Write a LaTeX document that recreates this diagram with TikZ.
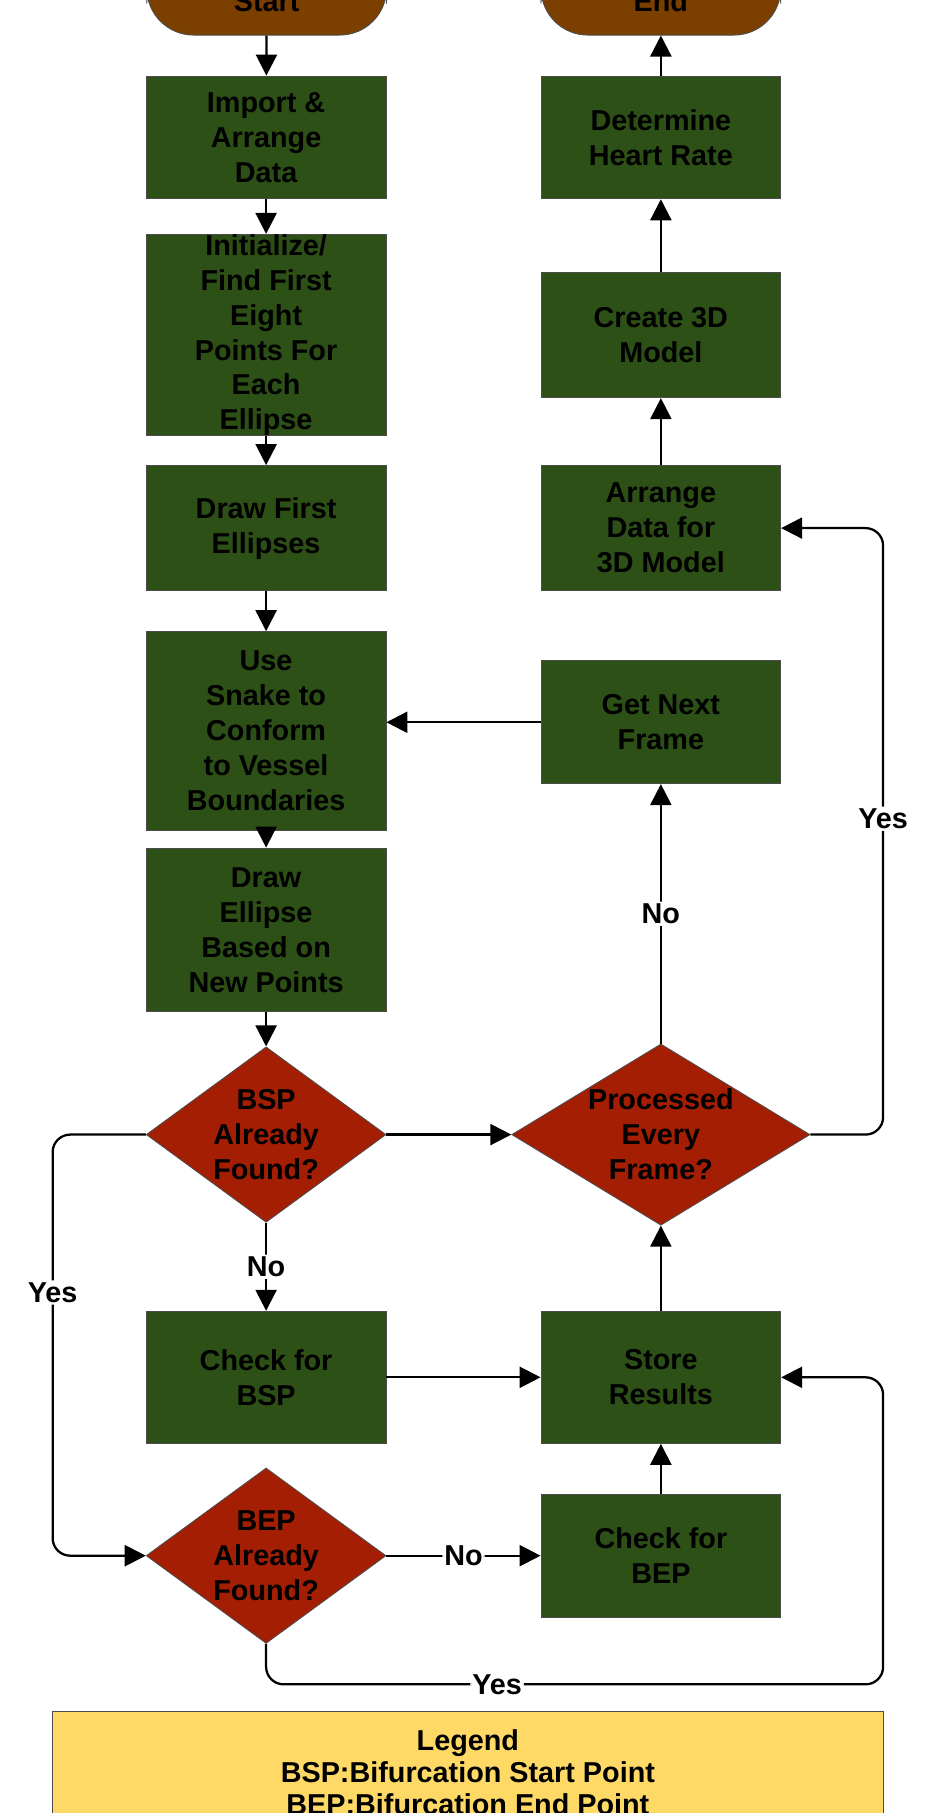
\documentclass[tikz,border=0pt]{standalone}
\usepackage{fontspec}
\setmainfont{Liberation Sans}
\usetikzlibrary{shapes.geometric,arrows.meta}
\definecolor{stepgreen}{HTML}{2D5016}
\definecolor{askred}{HTML}{A41E04}
\definecolor{termbrown}{HTML}{7B3F00}
\definecolor{legendyel}{HTML}{FFD966}
\tikzset{
  proc/.style={draw=black!70, fill=stepgreen, minimum width=4.1cm, align=center, inner sep=0pt},
  ask/.style={draw=black!70, fill=askred, diamond, inner sep=0pt},
  term/.style={draw=black!70, fill=termbrown, rounded corners=0.8cm, minimum width=4.1cm, minimum height=1.34cm},
  flow/.style={line width=1.1pt, -{Triangle[length=0.36cm,width=0.36cm]}, rounded corners=0.3cm},
  tag/.style={fill=white, inner sep=1pt}
}
\begin{document}
\begin{tikzpicture}[font=\fontsize{14}{17}\selectfont\bfseries]
\useasboundingbox[fill=white] (0,0) rectangle (16,-31);

% left column
\node[term] (start) at (4.56,0.07) {};
\node (starttxt) at (4.56,-0.02) {Start};
\node[proc, minimum height=2.1cm] (import) at (4.55,-2.35) {Import \&\\Arrange\\Data};
\node[proc, minimum height=3.34cm] (init) at (4.55,-5.73) {Initialize/\\Find First\\Eight\\Points For\\Each\\Ellipse};
\node[proc, minimum height=2.14cm] (drawfirst) at (4.55,-9.03) {Draw First\\Ellipses};
\node[proc, minimum height=3.4cm] (snake) at (4.55,-12.5) {Use\\Snake to\\Conform\\to Vessel\\Boundaries};
\node[proc, minimum height=2.8cm] (drawnew) at (4.55,-15.9) {Draw\\Ellipse\\Based on\\New Points};
\node[ask, minimum width=4.1cm, minimum height=3cm] (bsp) at (4.55,-19.4) {};
\node[align=center] (bsptxt) at (4.55,-19.4) {BSP\\Already\\Found?};
\node[proc, minimum height=2.26cm] (chkbsp) at (4.55,-23.55) {Check for\\BSP};
\node[ask, minimum width=4.1cm, minimum height=3cm] (bep) at (4.55,-26.6) {};
\node[align=center] (beptxt) at (4.55,-26.6) {BEP\\Already\\Found?};

% right column
\node[term] (end) at (11.3,0.07) {};
\node (endtxt) at (11.3,-0.02) {End};
\node[proc, minimum height=2.1cm] (heart) at (11.3,-2.35) {Determine\\Heart Rate};
\node[proc, minimum height=2.14cm] (model) at (11.3,-5.73) {Create 3D\\Model};
\node[proc, minimum height=2.14cm] (arrange) at (11.3,-9.03) {Arrange\\Data for\\3D Model};
\node[proc, minimum height=2.1cm] (next) at (11.3,-12.35) {Get Next\\Frame};
\node[ask, minimum width=5.1cm, minimum height=3.1cm] (done) at (11.3,-19.4) {};
\node[align=center] (donetxt) at (11.3,-19.4) {Processed\\Every\\Frame?};
\node[proc, minimum height=2.26cm] (store) at (11.3,-23.55) {Store\\Results};
\node[proc, minimum height=2.1cm] (chkbep) at (11.3,-26.6) {Check for\\BEP};

% legend
\node[draw=black!70, fill=legendyel, minimum width=14.2cm, minimum height=2.1cm, align=center, anchor=north,
  font=\fontsize{14}{15.5}\selectfont\bfseries] (legend) at (8,-29.25) {Legend\\BSP:Bifurcation Start Point\\BEP:Bifurcation End Point};

% connectors
\draw[flow] (start) -- (import);
\draw[flow] (import) -- (init);
\draw[flow] (init) -- (drawfirst);
\draw[flow] (drawfirst) -- (snake);
\draw[flow] (snake) -- (drawnew);
\draw[flow] (drawnew) -- (bsp);
\draw[flow] (bsp) -- node[tag] {No} (chkbsp);
\draw[flow] (bsp.east) -- (done.west);
\draw[flow] (bsp.west) -| (0.9,-22.1) node[tag] (yesleft) {Yes} |- (bep.west);
\draw[flow] (bep.east) -- node[tag] {No} (chkbep.west);
\draw[flow] (bep.south) |- (8.5,-28.8) node[tag] (yesbottom) {Yes} -| (15.1,-23.55) -- (store.east);
\draw[flow] (chkbsp.east) -- (store.west);
\draw[flow] (chkbep) -- (store);
\draw[flow] (store) -- (done);
\draw[flow] (done) -- node[tag] {No} (next);
\draw[flow] (done.east) -| (15.1,-14) node[tag] (yesright) {Yes} |- (arrange.east);
\draw[flow] (next.west) -- (snake.east |- next.west);
\draw[flow] (arrange) -- (model);
\draw[flow] (model) -- (heart);
\draw[flow] (heart) -- (end);
\end{tikzpicture}
\end{document}
